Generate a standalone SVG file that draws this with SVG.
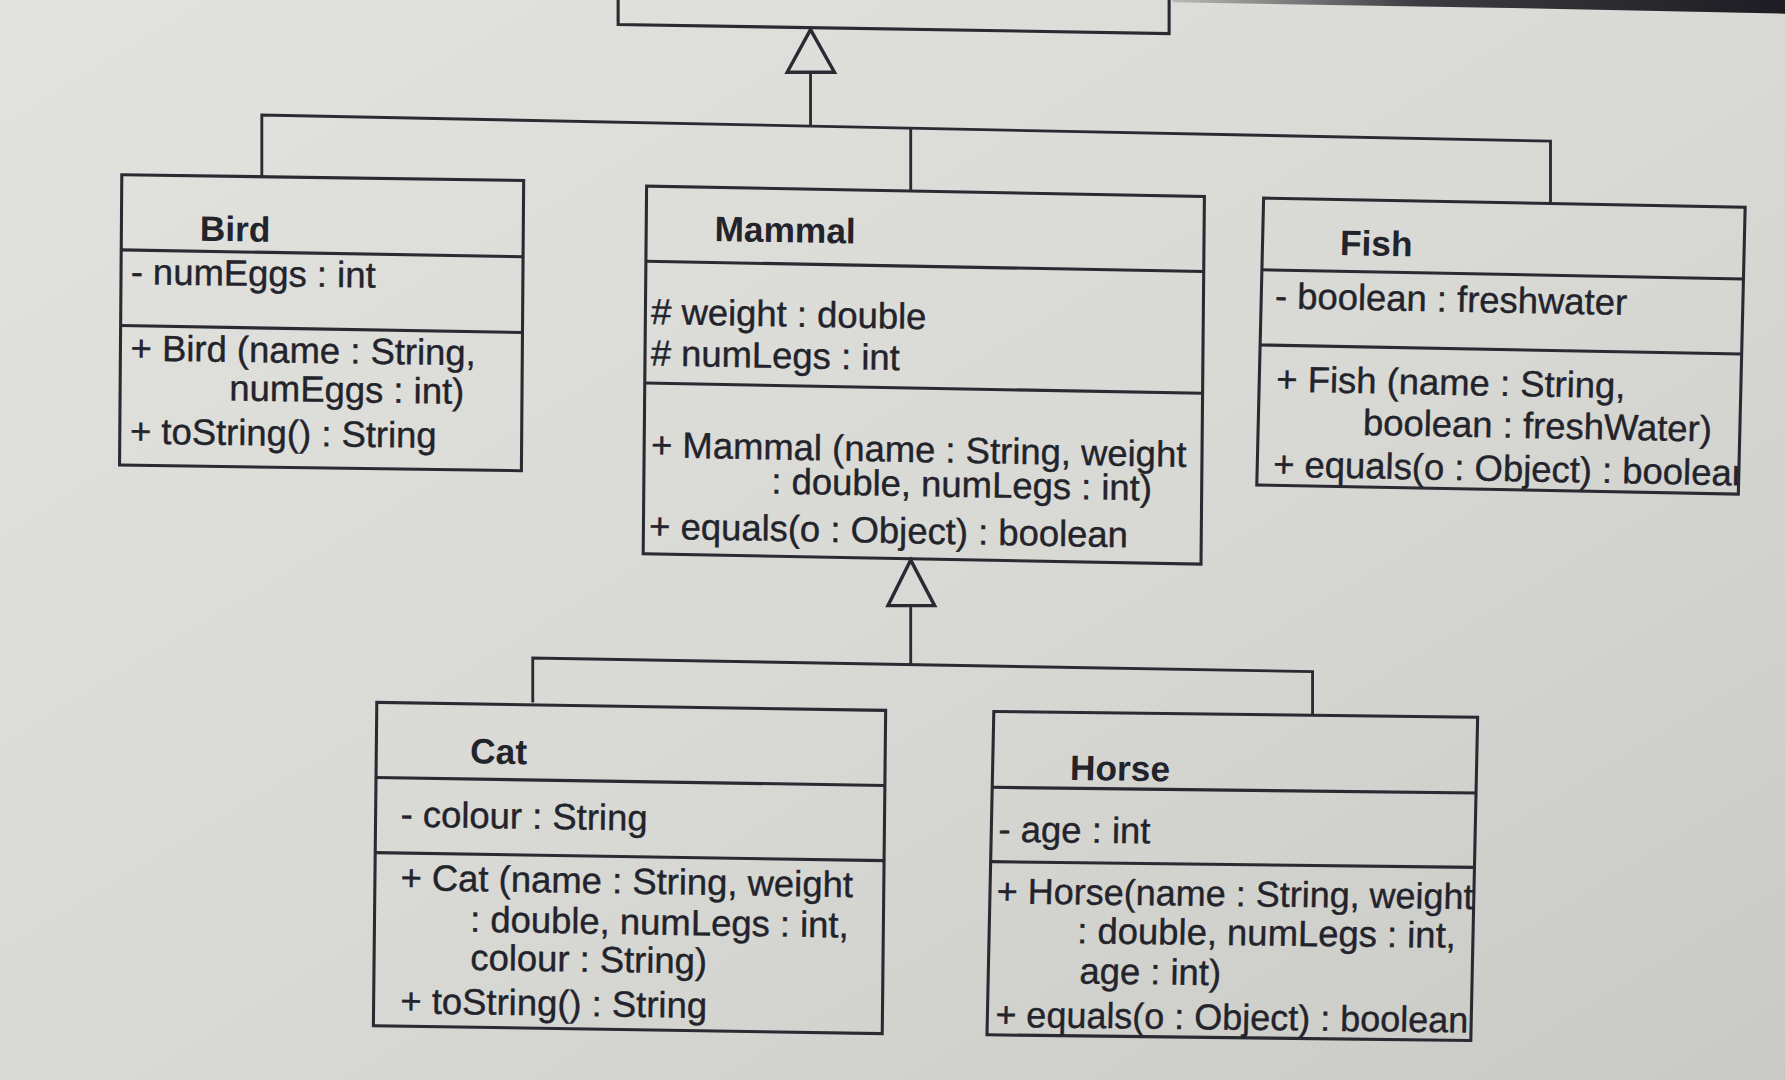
<svg xmlns="http://www.w3.org/2000/svg" width="1785" height="1080" viewBox="0 0 1785 1080">
<defs>
<linearGradient id="bg" x1="0" y1="0" x2="1" y2="1">
<stop offset="0" stop-color="#e2e2de"/>
<stop offset="0.55" stop-color="#d8d8d4"/>
<stop offset="1" stop-color="#c9c9c5"/>
</linearGradient>
<linearGradient id="bezel" x1="0" y1="0" x2="1" y2="0">
<stop offset="0" stop-color="#2a2a30" stop-opacity="0.2"/>
<stop offset="0.4" stop-color="#2a2a30" stop-opacity="0.9"/>
<stop offset="1" stop-color="#1c1c22"/>
</linearGradient>
<clipPath id="clipFish" clipPathUnits="userSpaceOnUse"><rect x="0" y="0" width="423" height="252"/></clipPath>
<clipPath id="clipHorse" clipPathUnits="userSpaceOnUse"><rect x="0" y="0" width="425" height="284"/></clipPath>
<style>
.box{fill:none;stroke:#2a2a32;stroke-width:2.7}
.ln{fill:none;stroke:#2a2a32;stroke-width:2.5}
.tri{fill:none;stroke:#2a2a32;stroke-width:3;stroke-linejoin:miter}
.t{font-family:"Liberation Sans",Arial,sans-serif;font-size:32px;fill:#23232b;stroke:#23232b;stroke-width:0.35}
.s{font-size:31.6px}
.h{font-family:"Liberation Sans",Arial,sans-serif;font-size:31px;font-weight:bold;fill:#23232b}
</style>
</defs>
<rect width="1785" height="1080" fill="url(#bg)"/>
<g transform="scale(1.13839)">
<path d="M1030,0 L1568,0 L1568,12 L1300,6.5 L1030,2 Z" fill="url(#bezel)"/>

<g id="parent">
<path class="box" d="M543,-5 L543,21.5 L1027,29.5 L1027,-5"/>
</g>

<g id="connectors">
<path class="tri" d="M712,26 L691.5,63.5 L733,63.5 Z"/>
<line class="ln" x1="712" y1="63.5" x2="712" y2="110.8"/>
<path class="ln" d="M230,155 L230,101 L1362,124 L1362,179"/>
<line class="ln" x1="800" y1="112.6" x2="800" y2="167.5"/>
<path class="tri" d="M800,492 L780,532 L821,532 Z"/>
<line class="ln" x1="800" y1="532" x2="800" y2="583.8"/>
<path class="ln" d="M468,617 L468,578 L1153,590 L1153,628.5"/>
</g>

<g id="bird" transform="translate(107 153.5) matrix(1 0.0142 -0.0078 1 0 0)">
<rect class="box" x="0" y="0" width="353" height="255"/>
<line class="box" x1="0" y1="66" x2="353" y2="67"/>
<line class="box" x1="0" y1="132.5" x2="353" y2="133.5"/>
<text class="h" x="69" y="57">Bird</text>
<text class="t" x="8.5" y="96">- numEggs : int</text>
<text class="t" x="9" y="163">+ Bird (name : String,</text>
<text class="t" x="96" y="197">numEggs : int)</text>
<text class="t" x="9" y="236">+ toString() : String</text>
</g>

<g id="mammal" transform="translate(568 163.5) matrix(1 0.0184 -0.0093 1 0 0)">
<rect class="box" x="0" y="0" width="490" height="323"/>
<line class="box" x1="0" y1="66" x2="490" y2="66"/>
<line class="box" x1="0" y1="173" x2="490" y2="173"/>
<text class="h" x="60" y="47">Mammal</text>
<text class="t" x="5" y="121"># weight : double</text>
<text class="t" x="5" y="157.5"># numLegs : int</text>
<text class="t" x="6" y="238">+ Mammal (name : String, weight</text>
<text class="t" x="112" y="268">: double, numLegs : int)</text>
<text class="t" x="5" y="309.5">+ equals(o : Object) : boolean</text>
</g>

<g id="fish" transform="translate(1110 174) matrix(1 0.019 -0.0238 1 0 0)">
<rect class="box" x="0" y="0" width="423" height="252"/>
<line class="box" x1="0" y1="63" x2="423" y2="63"/>
<line class="box" x1="0" y1="129" x2="423" y2="129"/>
<g clip-path="url(#clipFish)">
<text class="h" x="68" y="48.7">Fish</text>
<text class="t" x="12" y="96.6">- boolean : freshwater</text>
<text class="t" x="15" y="169.7">+ Fish (name : String,</text>
<text class="t" x="92" y="206.3">boolean : freshWater)</text>
<text class="t" x="14" y="244.4">+ equals(o : Object) : boolean</text>
</g>
</g>

<g id="cat" transform="translate(331 617) matrix(1 0.0157 -0.0106 1 0 0)">
<rect class="box" x="0" y="0" width="447" height="284"/>
<line class="box" x1="0" y1="66" x2="447" y2="66"/>
<line class="box" x1="0" y1="132" x2="447" y2="132"/>
<text class="h" x="82.5" y="52.2">Cat</text>
<text class="t" x="22" y="108.9">- colour : String</text>
<text class="t" x="22.5" y="164.5">+ Cat (name : String, weight</text>
<text class="t" x="84" y="200.1">: double, numLegs : int,</text>
<text class="t" x="84.5" y="233.7">colour : String)</text>
<text class="t" x="23.5" y="272.7">+ toString() : String</text>
</g>

<g id="horse" transform="translate(873 625) matrix(1 0.0118 -0.0211 1 0 0)">
<rect class="box" x="0" y="0" width="425" height="284"/>
<line class="box" x1="0" y1="66.6" x2="425" y2="66.6"/>
<line class="box" x1="0" y1="131.9" x2="425" y2="131.9"/>
<g clip-path="url(#clipHorse)">
<text class="h" x="68" y="59.4">Horse</text>
<text class="t" x="6.4" y="114.3">- age : int</text>
<text class="t s" x="6" y="168.5">+ Horse(name : String, weight</text>
<text class="t" x="77.4" y="202.7">: double, numLegs : int,</text>
<text class="t" x="80" y="238">age : int)</text>
<text class="t s" x="7" y="276.9">+ equals(o : Object) : boolean</text>
</g>
</g>
</g>
</svg>
